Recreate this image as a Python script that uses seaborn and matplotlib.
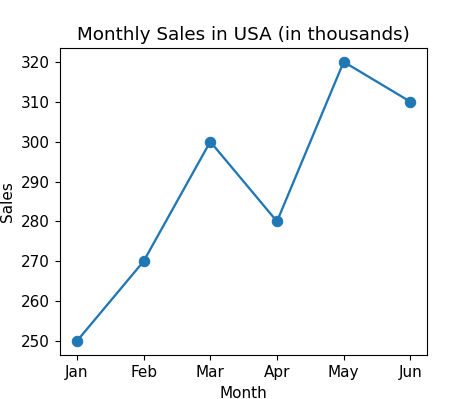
import matplotlib
matplotlib.use('Agg')
import matplotlib.pyplot as plt
import seaborn as sns
import pandas as pd

months = ['Jan', 'Feb', 'Mar', 'Apr', 'May', 'Jun']
sales = [250, 270, 300, 280, 320, 310]

df = pd.DataFrame({'Month': months, 'Sales': sales})

plt.rcParams['font.size'] = 11
plt.rcParams['xtick.major.size'] = 3.9
plt.rcParams['ytick.major.size'] = 3.9

fig, ax = plt.subplots(figsize=(4.74, 3.99), dpi=100)
sns.lineplot(data=df, x='Month', y='Sales', marker='o', color='#1f77b4',
             markeredgecolor='#1f77b4', markersize=7.5, linewidth=1.65,
             sort=False, ax=ax)
ax.set_title('Monthly Sales in USA (in thousands)', fontsize=13.2)
ax.set_xlabel('Month', fontsize=11)
ax.set_ylabel('Sales', fontsize=11)
fig.subplots_adjust(left=0.127, right=0.901, top=0.880, bottom=0.110)
fig.savefig('out.png', dpi=100)
